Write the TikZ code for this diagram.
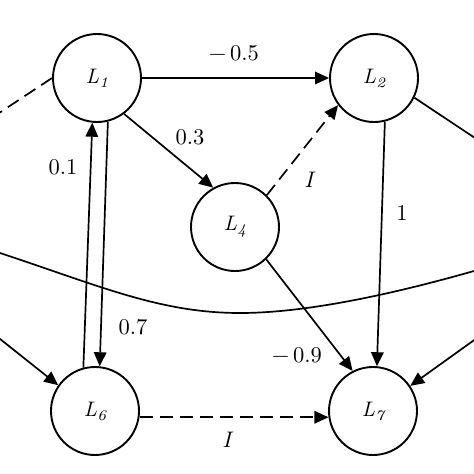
\documentclass[tikz,border=0pt]{standalone}
\usepackage{graphicx}
\usetikzlibrary{arrows.meta}
\newcommand\bgtxt[1]{\scalebox{2.25}{#1}}
\newcommand\Lsub[1]{\scalebox{2.1}{\textit{L}\kern0.2pt\raisebox{-1.9pt}{\scriptsize\itshape #1}}}
\tikzset{
  lnode/.style={circle,draw,line width=1.9pt,minimum size=88pt,inner sep=0pt},
  lab/.style={inner sep=0pt},
  edge/.style={line width=1.7pt,-{Triangle[length=14pt,width=12.5pt]}},
  plain/.style={line width=1.7pt},
  dashline/.style={dash pattern=on 13pt off 7pt}}
\begin{document}
\begin{tikzpicture}[x=1pt,y=-1pt]
\clip (0,0) rectangle (474,474);
\useasboundingbox (0,0) rectangle (474,474);
\node[lnode] (L1) at (97,78) {\Lsub{1}};
\node[lnode] (L2) at (374,78) {\Lsub{2}};
\node[lnode] (L4) at (235,227) {\Lsub{4}};
\node[lnode] (L6) at (95,411) {\Lsub{6}};
\node[lnode] (L7) at (373,411) {\Lsub{7}};
\coordinate (cL) at (-10,119);
\coordinate (cR) at (484,144);
\coordinate (cRin) at (484,333);
\coordinate (cLin) at (-10,331);
% boundary curve
\draw[plain] (-10,250) -- (0,253) .. controls (100,286) and (160,313) .. (240,313) .. controls (310,313) and (400,292) .. (474,271) -- (484,268);
% edges
\draw[edge] (L1.east) -- (L2.west);
\draw[edge] (L1.-53) -- (L4.119);
\draw[edge,dashline] (L4.45) -- (L2.-143);
\draw[edge] (L2.-76) -- (L7.85);
\draw[edge] (L4.-46) -- (L7.117);
\draw[edge] (L6.105) -- (L1.-96);
\draw[edge] (L1.-76) -- (L6.84);
\draw[edge,dashline] (L6.-8) -- (L7.188);
\draw[plain,dashline] (L1.west) -- (cL);
\draw[plain] (L2.-26) -- (cR);
\draw[edge] (cRin) -- (L7.34);
\draw[edge] (cLin) -- (L6.145);
% labels
\node[lab] (t05) at (234,53) {\bgtxt{−\,0.5}};
\node[lab] (t03) at (190,137) {\bgtxt{0.3}};
\node[lab] (t01) at (63,167) {\bgtxt{0.1}};
\node[lab] (tI1) at (310,180) {\bgtxt{\textit{I}}};
\node[lab] (t1) at (402,213) {\bgtxt{1}};
\node[lab] (t07) at (133,327) {\bgtxt{0.7}};
\node[lab] (t09) at (297,355) {\bgtxt{−\,0.9}};
\node[lab] (tI2) at (228,440) {\bgtxt{\textit{I}}};
\end{tikzpicture}
\end{document}
